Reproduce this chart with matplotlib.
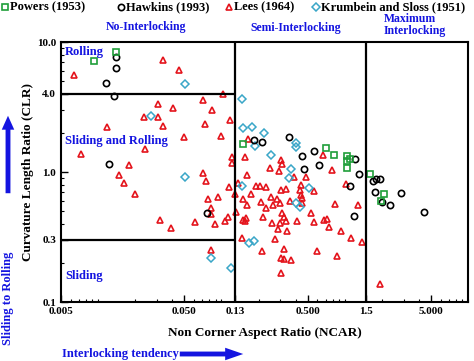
import matplotlib
matplotlib.use('Agg')
import matplotlib.pyplot as plt
from matplotlib.lines import Line2D
from matplotlib.ticker import FixedLocator, FixedFormatter, LogLocator, NullFormatter

plt.rcParams['font.family'] = ['Liberation Serif', 'DejaVu Serif']
plt.rcParams['font.weight'] = 'bold'

# data (NCAR, CLR)
powers_x = [0.0093, 0.0140, 0.149, 0.703, 0.812, 1.035, 1.035, 1.108, 1.035, 1.598, 2.074, 1.976]
powers_y = [7.20, 8.38, 1.633, 1.521, 1.352, 1.327, 1.222, 1.253, 1.079, 0.965, 0.674, 0.595]

hawkins_x = [0.0140, 0.01386, 0.01163, 0.01343, 0.01231, 0.0765, 0.1827, 0.2149, 0.351, 0.4495,
             0.562, 0.464, 0.617, 1.208, 1.318, 1.108, 1.194, 1.689, 1.800, 1.950,
             1.754, 2.013, 2.350, 2.885, 4.404]
hawkins_y = [7.63, 6.28, 4.86, 3.86, 1.152, 0.484, 1.753, 1.692, 1.868, 1.335,
             1.443, 1.060, 1.132, 1.253, 0.970, 0.776, 0.459, 0.857, 0.891, 0.880,
             0.702, 0.588, 0.557, 0.686, 0.495]

krumbein_x = [0.0508, 0.0271, 0.0508, 0.0830, 0.119, 0.1474, 0.1497, 0.177, 0.2202, 0.1862,
              0.405, 0.400, 0.2508, 0.364, 0.353, 0.1469, 0.514, 0.405, 0.431, 0.1674, 0.1834]
krumbein_y = [4.75, 2.70, 0.920, 0.217, 0.184, 3.66, 2.19, 2.21, 2.01, 1.585,
              1.680, 1.549, 1.344, 1.049, 0.904, 0.780, 0.751, 0.574, 0.535, 0.283, 0.296]

lees_x = [0.00635, 0.0335, 0.0454, 0.1023, 0.0305, 0.0709, 0.0407, 0.0840, 0.0234, 0.0305,
          0.1168, 0.0118, 0.0335, 0.0737, 0.0500, 0.0984, 0.0239, 0.00726, 0.1229, 0.1219,
          0.0178, 0.01475, 0.0715, 0.0161, 0.0746, 0.1153, 0.1374, 0.01987, 0.0785, 0.0939,
          0.0830, 0.0824, 0.0888, 0.1282, 0.0318, 0.0389, 0.0616, 0.1078, 0.1132, 0.1323,
          0.0830, 0.1553, 0.1643, 0.302, 0.312, 0.246, 0.291, 0.3875, 0.484, 0.671,
          0.795, 0.1613, 0.1897, 0.2074, 0.2285, 0.305, 0.336, 0.445, 0.437, 0.562,
          1.016, 0.443, 0.1738, 0.254, 0.284, 0.297, 0.447, 0.453, 0.359, 0.211,
          0.1497, 0.1613, 0.262, 0.827, 1.277, 0.2315, 0.312, 0.321, 0.536, 0.219,
          0.1497, 0.156, 0.159, 0.300, 0.332, 0.410, 0.562, 0.678, 0.717, 0.259,
          0.287, 0.342, 0.744, 0.937, 0.148, 0.273, 1.115, 1.387, 0.215, 0.321,
          0.599, 0.863, 0.302, 0.321, 0.369, 0.302, 1.950]
lees_y = [5.54, 7.27, 6.11, 4.00, 3.36, 3.58, 3.08, 2.99, 2.65, 2.66,
          2.52, 2.22, 2.25, 2.36, 1.858, 1.882, 1.495, 1.368, 1.298, 1.177,
          1.132, 0.948, 0.991, 0.823, 0.857, 0.767, 0.830, 0.681, 0.617, 0.642,
          0.526, 0.473, 0.398, 0.674, 0.425, 0.369, 0.413, 0.422, 0.453, 0.495,
          0.251, 1.304, 1.794, 1.237, 1.146, 1.079, 1.012, 0.910, 0.910, 1.356,
          1.041, 0.948, 0.776, 0.776, 0.767, 0.727, 0.736, 0.790, 0.723, 0.714,
          0.809, 0.671, 0.677, 0.646, 0.623, 0.580, 0.628, 0.574, 0.595, 0.588,
          0.623, 0.560, 0.554, 0.564, 0.557, 0.526, 0.481, 0.453, 0.481, 0.453,
          0.431, 0.423, 0.439, 0.407, 0.422, 0.422, 0.410, 0.427, 0.434, 0.403,
          0.366, 0.350, 0.375, 0.354, 0.309, 0.304, 0.313, 0.292, 0.248, 0.254,
          0.248, 0.226, 0.217, 0.213, 0.210, 0.166, 0.138]

# zone boundaries
ncar_bounds = [0.13, 1.5]
clr_bounds = [0.3, 4.0]

x_ticks = [0.005, 0.05, 0.13, 0.5, 1.5, 5.0]
x_ticklabels = ['0.005', '0.050', '0.13', '0.500', '1.5', '5.000']
y_ticks = [0.1, 0.3, 1.0, 4.0, 10.0]
y_ticklabels = ['0.1', '0.3', '1.0', '4.0', '10.0']

labels = ['Powers (1953)', 'Hawkins (1993)', 'Lees (1964)', 'Krumbein and Sloss (1951)']

green = '#1f9e3a'
red = '#e4141c'
cyan = '#3aa6c8'
blue = '#1414e0'

fig = plt.figure(figsize=(4.74, 3.61), dpi=100)
ax = fig.add_axes([61 / 474, 1 - 302 / 361, 407 / 474, 260 / 361])

mk = dict(linestyle='none', mfc='none', ms=4.5, mew=1.2)
dmk = dict(linestyle='none', mfc='none', ms=4, mew=1.1)
ax.plot(lees_x, lees_y, marker='^', mec=red, **mk)
ax.plot(krumbein_x, krumbein_y, marker='D', mec=cyan, **dmk)
ax.plot(hawkins_x, hawkins_y, marker='o', mec='black', **mk)
ax.plot(powers_x, powers_y, marker='s', mec=green, **mk)

ax.set_xscale('log')
ax.set_yscale('log')
ax.set_xlim(0.005, 10)
ax.set_ylim(0.1, 10)

for xb in ncar_bounds:
    ax.axvline(xb, color='black', lw=1.6)
ax.hlines(clr_bounds, 0.005, ncar_bounds[0], color='black', lw=1.6)

ax.xaxis.set_major_locator(FixedLocator(x_ticks))
ax.xaxis.set_major_formatter(FixedFormatter(x_ticklabels))
ax.xaxis.set_minor_locator(LogLocator(subs='all'))
ax.xaxis.set_minor_formatter(NullFormatter())
ax.yaxis.set_major_locator(FixedLocator(y_ticks))
ax.yaxis.set_major_formatter(FixedFormatter(y_ticklabels))
ax.yaxis.set_minor_locator(LogLocator(subs='all'))
ax.yaxis.set_minor_formatter(NullFormatter())
ax.tick_params(which='both', direction='in', labelsize=8)
ax.tick_params(which='major', length=5, width=1)
ax.tick_params(which='minor', length=2.5, width=0.8)
for s in ax.spines.values():
    s.set_linewidth(1.5)

ax.set_xlabel('Non Corner Aspect Ratio (NCAR)', fontsize=9.5, fontweight='bold', labelpad=8)
ax.set_ylabel('Curvature Length Ratio (CLR)', fontsize=9.5, fontweight='bold', labelpad=2)

# zone labels
ax.text(0.01, 0.985, 'Rolling', transform=ax.transAxes, color=blue, fontsize=9, va='top')
ax.text(0.01, 0.62, 'Sliding and Rolling', transform=ax.transAxes, color=blue, fontsize=9, va='center')
ax.text(0.01, 0.10, 'Sliding', transform=ax.transAxes, color=blue, fontsize=9, va='center')
fig.text(146 / 474, 1 - 27 / 361, 'No-Interlocking', color=blue, fontsize=8.5, ha='center', va='center')
fig.text(296 / 474, 1 - 28 / 361, 'Semi-Interlocking', color=blue, fontsize=8.5, ha='center', va='center')
fig.text(384 / 474, 1 - 25 / 361, 'Maximum\nInterlocking', color=blue, fontsize=8.5, ha='left', va='center',
         linespacing=1.1)

# legend row along the top, laid out by hand
styles = [('s', green, mk), ('o', 'black', mk), ('^', red, mk), ('D', cyan, dmk)]
marker_px = [5, 121, 229, 316]
ly = 1 - 7 / 361
for (m, c, kw), lab, px in zip(styles, labels, marker_px):
    fig.add_artist(Line2D([px / 474], [ly], transform=fig.transFigure, marker=m, mec=c, **kw))
    fig.text((px + 5) / 474, ly, lab, fontsize=9, ha='left', va='center')

# arrows on the outside
fig.text(8 / 474, 1 - 298 / 361, 'Sliding to Rolling', color=blue, fontsize=9, rotation=90,
         ha='center', va='center')
ax.annotate('', xy=(8 / 474, 1 - 113 / 361), xytext=(8 / 474, 1 - 196 / 361),
            xycoords='figure fraction', textcoords='figure fraction',
            arrowprops=dict(arrowstyle='simple,head_width=0.9,head_length=1.0,tail_width=0.35',
                            color=blue, lw=0))
fig.text(62 / 474, 1 - 354 / 361, 'Interlocking tendency', color=blue, fontsize=9, ha='left', va='center')
ax.annotate('', xy=(246 / 474, 1 - 354 / 361), xytext=(177 / 474, 1 - 354 / 361),
            xycoords='figure fraction', textcoords='figure fraction',
            arrowprops=dict(arrowstyle='simple,head_width=0.9,head_length=1.3,tail_width=0.35',
                            color=blue, lw=0))

fig.savefig('out.png', dpi=100)
